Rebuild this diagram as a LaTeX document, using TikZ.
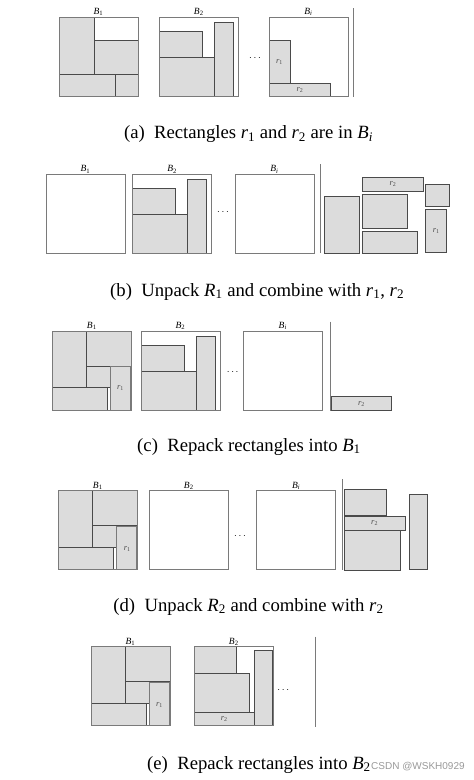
\documentclass[tikz,border=0pt]{standalone}
\usepackage{fontspec}
\setmainfont{Liberation Serif}
\newfontfamily\wmfont{Liberation Sans}
\definecolor{fillgray}{HTML}{DCDCDC}
\definecolor{itemline}{HTML}{4A4A4A}
\definecolor{binline}{HTML}{7A7A7A}
\definecolor{wmgray}{HTML}{9A9A9A}
\tikzset{
  bin/.style={draw=binline, line width=1pt},
  item/.style={draw=itemline, fill=fillgray, line width=0.9pt},
  itemlight/.style={draw=binline, fill=fillgray, line width=0.9pt},
  sepline/.style={draw=binline, line width=1pt},
  binlabel/.style={font=\fontsize{9.5}{10}\selectfont, inner sep=0pt, anchor=base},
  rlabel/.style={font=\fontsize{8.5}{9}\selectfont, inner sep=0pt, text=black!70},
  dotsl/.style={font=\fontsize{10}{10}\selectfont, inner sep=0pt},
  caption/.style={font=\fontsize{18.7}{20}\selectfont, inner sep=0pt, anchor=base},
}
\newcommand{\Bsub}[2]{\textit{#1}\textsubscript{#2}}
\newcommand{\btwofill}{%
  \draw[item] (0,14) rectangle (43,40);
  \draw[item] (0,40) rectangle (55,79);
  \draw[item] (55,5) rectangle (74,79);
}
\newcommand{\bonefull}{%
  \draw[item] (0,0) rectangle (34.4,56.7);
  \draw[item] (34.4,0) rectangle (79,35);
  \draw[item] (34.4,35) rectangle (58,56.7);
  \draw[item] (0,56.7) rectangle (55.4,79);
  \draw[itemlight] (58,35.8) rectangle (78.4,79);
}
\begin{document}
\begin{tikzpicture}[x=1pt,y=-1pt]
\useasboundingbox[fill=white] (0,0) rectangle (474,780);

% ---------- (a) ----------
\begin{scope}[shift={(59,17)}]
  \draw[item] (0,0) rectangle (35,57);
  \draw[item] (35,23) rectangle (79,57);
  \draw[item] (0,57) rectangle (56,79);
  \draw[item] (56,57) rectangle (79,79);
  \draw[bin] (0,0) rectangle (79,79);
  \node[binlabel] (a1) at (39.5,-2.5) {\Bsub{B}{1}};
\end{scope}
\begin{scope}[shift={(159.3,17)}]
  \btwofill
  \draw[bin] (0,0) rectangle (79,79);
  \node[binlabel] (a2) at (39.5,-2.5) {\Bsub{B}{2}};
\end{scope}
\node[dotsl] (adots) at (255,58) {$\cdots$};
\begin{scope}[shift={(269,17)}]
  \draw[item] (0,23) rectangle (21,66);
  \draw[item] (0,66) rectangle (61,79);
  \draw[bin] (0,0) rectangle (79,79);
  \node[binlabel] (ai) at (39.5,-2.5) {\Bsub{B}{\textit{i}}};
  \node[rlabel] (ar1) at (10.5,45) {\Bsub{r}{1}};
  \node[rlabel] (ar2) at (31,73) {\Bsub{r}{2}};
\end{scope}
\draw[sepline] (353,8) -- (353,97);
\node[caption] (capa) at (248.5,138.7) {(a)\enspace Rectangles \Bsub{r}{1} and \Bsub{r}{2} are in \Bsub{B}{\textit{i}}};

% ---------- (b) ----------
\begin{scope}[shift={(46,174.3)}]
  \draw[bin] (0,0) rectangle (79,79);
  \node[binlabel] (b1) at (39.5,-2.5) {\Bsub{B}{1}};
\end{scope}
\begin{scope}[shift={(132.7,174.3)}]
  \btwofill
  \draw[bin] (0,0) rectangle (79,79);
  \node[binlabel] (b2) at (39.5,-2.5) {\Bsub{B}{2}};
\end{scope}
\node[dotsl] (bdots) at (223,212) {$\cdots$};
\begin{scope}[shift={(235,174.3)}]
  \draw[bin] (0,0) rectangle (79,79);
  \node[binlabel] (bi) at (39.5,-2.5) {\Bsub{B}{\textit{i}}};
\end{scope}
\draw[sepline] (320.7,164) -- (320.7,253);
\draw[item] (324.7,196.7) rectangle (359,253.3);
\draw[item] (362.7,177.3) rectangle (423.3,191);
\node[rlabel] (br2) at (393,184.2) {\Bsub{r}{2}};
\draw[item] (362.7,194.3) rectangle (407.7,228.3);
\draw[item] (362.7,231) rectangle (417.7,253.3);
\draw[item] (425.7,184.3) rectangle (449.3,206.7);
\draw[item] (425.7,209.3) rectangle (446.7,252.7);
\node[rlabel] (br1) at (436.2,231) {\Bsub{r}{1}};
\node[caption, anchor=base west] (capb) at (110,296) {(b)\enspace Unpack \Bsub{R}{1} and combine with \Bsub{r}{1}, \Bsub{r}{2}};

% ---------- (c) ----------
\begin{scope}[shift={(52.3,331)}]
  \bonefull
  \draw[bin] (0,0) rectangle (79,79);
  \node[binlabel] (c1) at (39.5,-2.5) {\Bsub{B}{1}};
  \node[rlabel] (cr1) at (68.2,57) {\Bsub{r}{1}};
\end{scope}
\begin{scope}[shift={(141,331)}]
  \btwofill
  \draw[bin] (0,0) rectangle (79,79);
  \node[binlabel] (c2) at (39.5,-2.5) {\Bsub{B}{2}};
\end{scope}
\node[dotsl] (cdots) at (232.7,372.7) {$\cdots$};
\begin{scope}[shift={(243.3,331)}]
  \draw[bin] (0,0) rectangle (79,79);
  \node[binlabel] (ci) at (39.5,-2.5) {\Bsub{B}{\textit{i}}};
\end{scope}
\draw[sepline] (330,321.7) -- (330,410.7);
\draw[item] (331,396.7) rectangle (391.7,410.7);
\node[rlabel] (cr2) at (361.5,404) {\Bsub{r}{2}};
\node[caption] (capc) at (249,451) {(c)\enspace Repack rectangles into \Bsub{B}{1}};

% ---------- (d) ----------
\begin{scope}[shift={(58.3,490.7)}]
  \bonefull
  \draw[bin] (0,0) rectangle (79,79);
  \node[binlabel] (d1) at (39.5,-2.5) {\Bsub{B}{1}};
  \node[rlabel] (dr1) at (69,58) {\Bsub{r}{1}};
\end{scope}
\begin{scope}[shift={(149.3,490.7)}]
  \draw[bin] (0,0) rectangle (79,79);
  \node[binlabel] (d2) at (39.5,-2.5) {\Bsub{B}{2}};
\end{scope}
\node[dotsl] (ddots) at (240,536) {$\cdots$};
\begin{scope}[shift={(256.7,490.7)}]
  \draw[bin] (0,0) rectangle (79,79);
  \node[binlabel] (di) at (39.5,-2.5) {\Bsub{B}{\textit{i}}};
\end{scope}
\draw[sepline] (342.7,479.3) -- (342.7,570);
\draw[item] (344.3,489.3) rectangle (386.7,515.7);
\draw[item] (344.3,516.7) rectangle (405,530);
\node[rlabel] (dr2) at (374.6,523.3) {\Bsub{r}{2}};
\draw[item] (344.3,530) rectangle (400,570);
\draw[item] (409,494.3) rectangle (427.3,569);
\node[caption] (capd) at (248.5,611) {(d)\enspace Unpack \Bsub{R}{2} and combine with \Bsub{r}{2}};

% ---------- (e) ----------
\begin{scope}[shift={(91,646.7)}]
  \bonefull
  \draw[bin] (0,0) rectangle (79,79);
  \node[binlabel] (e1) at (39.5,-2.5) {\Bsub{B}{1}};
  \node[rlabel] (er1) at (68.5,58) {\Bsub{r}{1}};
\end{scope}
\begin{scope}[shift={(194.3,646.7)}]
  \draw[item] (0,0) rectangle (42.4,26.6);
  \draw[item] (0,26.6) rectangle (55,65.6);
  \draw[item] (0,65.6) rectangle (60,79);
  \draw[item] (60,4) rectangle (78.4,79);
  \draw[bin] (0,0) rectangle (79,79);
  \node[binlabel] (e2) at (39.5,-2.5) {\Bsub{B}{2}};
  \node[rlabel] (er2) at (30,72.3) {\Bsub{r}{2}};
\end{scope}
\node[dotsl] (edots) at (283.3,690) {$\cdots$};
\draw[sepline] (315.7,636.7) -- (315.7,726.7);
\node[caption, anchor=base west] (cape) at (147,769) {(e)\enspace Repack rectangles into \Bsub{B}{2}};
\node[anchor=base west, inner sep=0pt, text=wmgray, font=\wmfont\fontsize{10}{11}\selectfont] (wm) at (cape.base east) {CSDN @WSKH0929};
\end{tikzpicture}
\end{document}
